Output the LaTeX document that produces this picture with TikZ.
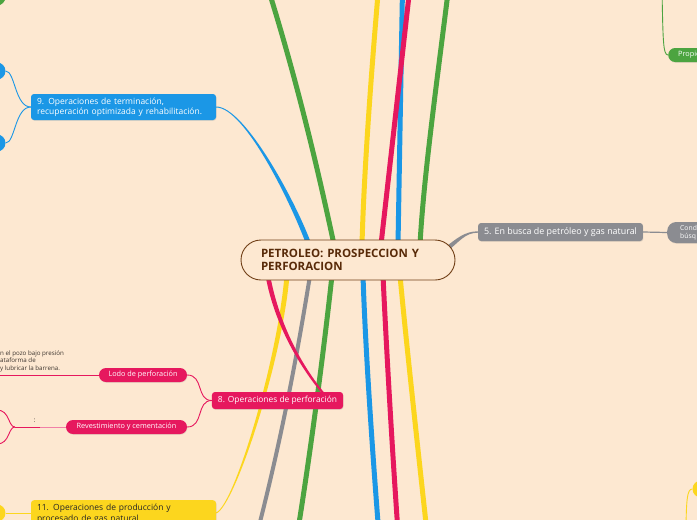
\documentclass[tikz,border=0pt]{standalone}
\usepackage{fontspec}
\setmainfont{Open Sans}
\usetikzlibrary{calc,backgrounds,shadows}

\definecolor{paper}{RGB}{253,232,209}
\definecolor{mmblue}{RGB}{27,151,230}
\definecolor{mmred}{RGB}{230,24,94}
\definecolor{mmyellow}{RGB}{252,214,30}
\definecolor{mmgreen}{RGB}{76,164,64}
\definecolor{mmgray}{RGB}{139,140,145}
\definecolor{rootline}{RGB}{112,62,22}
\definecolor{roottext}{RGB}{88,42,8}
\definecolor{notetext}{RGB}{60,52,46}

\tikzset{
  root/.style={draw=rootline, line width=0.9pt, fill=paper, rounded corners=20pt,
    minimum width=214pt, minimum height=40pt, text width=174pt, inner xsep=20pt,
    align=left, text=roottext, font=\bfseries\fontsize{11.5}{12.5}\selectfont},
  topic/.style={rounded corners=3pt, inner xsep=6pt, inner ysep=2pt, align=left,
    text=white, font=\fontsize{8.5}{10}\selectfont,
    drop shadow={shadow xshift=0.5pt, shadow yshift=-0.8pt, opacity=0.18}},
  pill/.style={topic, rounded corners=7pt, inner xsep=4pt, font=\fontsize{7.3}{8}\selectfont},
  dot/.style={circle, inner sep=0pt, minimum size=17pt},
  branch/.style={line width=5pt},
  twig/.style={line width=0.9pt},
}

% tapered branch: colour, from, control 1, control 2, to, half width at start, half width at end
\def\Taper#1#2#3#4#5#6#7{%
  \fill[#1] ($(#2)!#6!90:(#3)$) .. controls ($(#3)!#6!-90:(#2)$) and ($(#4)!#7!90:(#5)$) .. ($(#5)!#7!-90:(#4)$)
    -- ($(#5)!#7!90:(#4)$) .. controls ($(#4)!#7!-90:(#5)$) and ($(#3)!#6!90:(#2)$) .. ($(#2)!#6!-90:(#3)$) -- cycle;}

\begin{document}
\begin{tikzpicture}[x=1pt, y=-1pt]
\useasboundingbox (0,0) rectangle (697,520);
\clip (0,0) rectangle (697,520);

% central topic
\node[root] (petroleo) at (348,260) {PETROLEO: PROSPECCION Y\\PERFORACION};

% right side
\node[topic, fill=mmgray, minimum width=161pt, minimum height=18pt, font=\fontsize{8.9}{10}\selectfont] (busca) at (560.5,232) {5. En busca de petróleo y gas natural};
\node[pill, fill=mmgray, anchor=west, rounded corners=9pt, minimum height=21pt, text width=34pt, inner xsep=13pt,
  font=\fontsize{6.8}{8.5}\selectfont] (cond) at (667,232.5) {Cond\\búsq};
\node[pill, fill=mmgreen, anchor=west, minimum height=14pt, text width=30pt, inner xsep=10pt] (propie) at (668,55) {Propie};
\node[dot, fill=mmyellow] (yelR) at (701,489) {};

% left side
\node[topic, fill=mmblue, minimum width=185pt, minimum height=26pt, text width=173pt] (terminacion) at (123.5,107)
  {9. Operaciones de terminación,\\recuperación optimizada y rehabilitación.};
\node[dot, fill=mmblue] (termA) at (-3,71) {};
\node[dot, fill=mmblue] (termB) at (-3,143) {};
\node[dot, fill=mmgreen] (greenTL) at (-3,-3) {};

\node[topic, fill=mmred, minimum width=129pt, minimum height=17pt, font=\fontsize{8.4}{10}\selectfont] (perforacion) at (277.5,400.5) {8. Operaciones de perforación};
\node[pill, fill=mmred, minimum width=88pt, minimum height=14pt] (lodo) at (143,375) {Lodo de perforación};
\node[pill, fill=mmred, minimum width=121pt, minimum height=14pt] (revest) at (126.5,427) {Revestimiento y cementación};
\node[anchor=north west, inner sep=0pt, align=left, text=notetext, font=\fontsize{6.2}{7.4}\selectfont] (lodonota) at (0,350.5)
  {n el pozo bajo presión\\ataforma de\\y lubricar la barrena.};
\node[inner sep=0pt, text=notetext, font=\fontsize{6.5}{7}\selectfont] (dospuntos) at (34.5,420.5) {:};

\node[topic, fill=mmyellow, text=black!85, anchor=north, minimum width=185pt, text width=173pt, inner ysep=4pt,
  font=\fontsize{8.5}{11}\selectfont] (produccion) at (123.5,500) {11. Operaciones de producción y\\procesado de gas natural};
\node[dot, fill=mmyellow] (prodA) at (-3,513) {};

% branch starts inside the central topic
\coordinate (sYT) at ([xshift=14pt,yshift=-5pt]petroleo.north);
\coordinate (sRT) at ([xshift=33pt,yshift=-5pt]petroleo.north);
\coordinate (sBT) at ([xshift=50pt,yshift=-5pt]petroleo.north);
\coordinate (sGR) at ([xshift=72pt,yshift=-5pt]petroleo.north);
\coordinate (sGL) at ([xshift=-14pt,yshift=-5pt]petroleo.north);
\coordinate (s9) at ([xshift=-38pt,yshift=-8pt]petroleo.north);
\coordinate (sBB) at ([xshift=15pt,yshift=5pt]petroleo.south);
\coordinate (sRB) at ([xshift=35pt,yshift=5pt]petroleo.south);
\coordinate (sYB) at ([xshift=52pt,yshift=5pt]petroleo.south);
\coordinate (sGB) at ([xshift=-16pt,yshift=5pt]petroleo.south);
\coordinate (sGrB) at ([xshift=-38pt,yshift=5pt]petroleo.south);
\coordinate (s11) at ([xshift=-61pt,yshift=5pt]petroleo.south);
\coordinate (s8) at ([xshift=-80pt,yshift=4pt]petroleo.south);
\coordinate (s5) at ([xshift=-10pt,yshift=10pt]petroleo.east);
\coordinate (e8) at ([xshift=52pt]perforacion.center);

% ends out of view
\coordinate (eYT) at (381,-40);
\coordinate (eRT) at (413,-40);
\coordinate (eBT) at (403,-40);
\coordinate (eGR) at (452,-40);
\coordinate (eGL) at (259,-40);
\coordinate (eBB) at (381,560);
\coordinate (eRB) at (400,560);
\coordinate (eYB) at (430,560);
\coordinate (eGB) at (293,560);
\coordinate (eGrB) at (250,560);
\coordinate (eProp) at (662,-10);
\coordinate (eYelR) at (686,540);
\coordinate (lodoEnd) at (-5,375);
\coordinate (colonL) at (15,427);
\coordinate (colonR) at (40,427);
\coordinate (revA) at (-3,410);
\coordinate (revB) at (-3,444);

\begin{scope}[on background layer]
\fill[paper] (-20,-20) rectangle (717,540);

\draw[branch, mmyellow] (sYT) .. controls (364,170) and (372,60) .. (eYT);
\draw[branch, mmblue] (sBT) -- (eBT);
\draw[branch, mmred] (sRT) -- (eRT);
\draw[branch, mmgreen] (sGR) .. controls (424,170) and (440,60) .. (eGR);
\draw[branch, mmgreen] (sGL) .. controls (318,170) and (295,70) .. (eGL);

\draw[branch, mmblue] (sBB) .. controls (365,340) and (372,450) .. (eBB);
\draw[branch, mmred] (sRB) .. controls (386,340) and (392,450) .. (eRB);
\draw[branch, mmyellow] (sYB) .. controls (406,340) and (418,450) .. (eYB);
\draw[branch, mmgreen] (sGB) .. controls (325,340) and (310,460) .. (eGB);
\draw[line width=4pt, mmgray] (sGrB) .. controls (298,350) and (280,450) .. (eGrB);

\Taper{mmblue}{s9}{295,205}{245,107}{terminacion.east}{2.5pt}{0.5pt}
\Taper{mmyellow}{s11}{280,360}{235,505}{produccion.east |- 0,513}{2.5pt}{0.5pt}
\Taper{mmred}{s8}{277,325}{302,370}{e8}{2.3pt}{1.1pt}
\Taper{mmgray}{s5}{458,240}{465,232}{busca.west}{2.2pt}{0.7pt}

\draw[twig, mmblue] (terminacion.west) .. controls (15,107) and (15,71) .. (termA);
\draw[twig, mmblue] (terminacion.west) .. controls (15,107) and (15,143) .. (termB);
\draw[line width=1.2pt, mmgray] (busca.east) -- (cond.west);
\draw[twig, mmgreen] (eProp) .. controls (663,40) and (663,55) .. (propie.west);
\draw[twig, mmyellow] (eYelR) .. controls (686,500) and (687,489) .. (yelR);

\draw[twig, mmred] (perforacion.west) .. controls (196,400.5) and (204,375) .. (lodo.east);
\draw[twig, mmred] (perforacion.west) .. controls (196,400.5) and (204,427) .. (revest.east);
\draw[twig, mmred] (lodo.west) -- (lodoEnd);
\draw[twig, mmred!55] (revest.west) -- (colonR);
\draw[twig, mmred] (colonR) -- (colonL);
\draw[twig, mmred] (colonL) .. controls (8,427) and (10,410) .. (revA);
\draw[twig, mmred] (colonL) .. controls (8,427) and (10,444) .. (revB);
\draw[twig, mmyellow] (produccion.west |- 0,513) -- (prodA);
\end{scope}
\end{tikzpicture}
\end{document}
